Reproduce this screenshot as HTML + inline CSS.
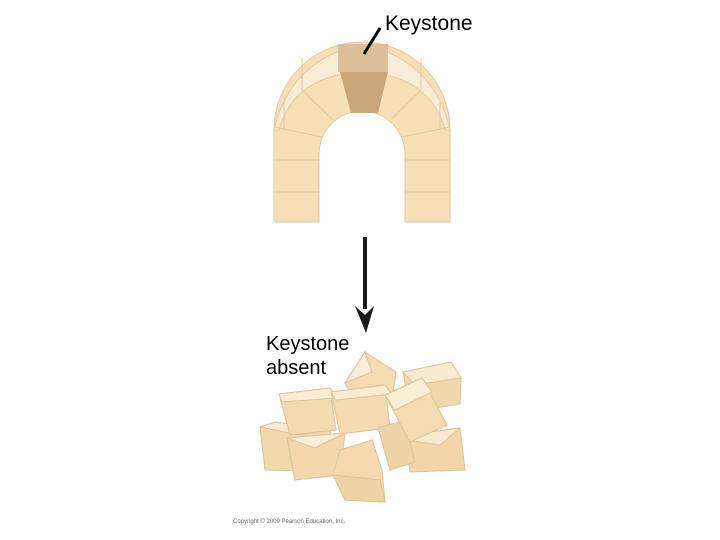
<!DOCTYPE html>
<html><head><style>
html,body{margin:0;padding:0;background:#fff;width:720px;height:540px;overflow:hidden}
svg{display:block}
</style></head><body>
<svg width="720" height="540" viewBox="0 0 720 540" xmlns="http://www.w3.org/2000/svg">
<g stroke="#e2c9a0" stroke-width="1" fill="#f8e2bd">
 <!-- arch outer (depth band) -->
 <path d="M274,222 L274,130 A88,88 0 0 1 450,130 L450,222 L405,222 L405,154 A43,43 0 0 0 319,154 L319,222 Z" fill="#f7dfb7"/>
 <path d="M279,130 A83,60 0 0 1 445,130" fill="none"/>
 <path d="M274,130 Q290,60 362,44 Q434,60 450,130 L445,130 Q430,75 362,72 Q294,75 279,130 Z" fill="#faecd4"/>
 <line x1="274" y1="160" x2="319" y2="160"/><line x1="274" y1="192" x2="319" y2="192"/>
 <line x1="405" y1="160" x2="450" y2="160"/><line x1="405" y1="192" x2="450" y2="192"/>
 <line x1="274" y1="127" x2="322" y2="137"/><line x1="450" y1="127" x2="402" y2="137"/>
 <line x1="302" y1="90" x2="333" y2="120"/><line x1="421" y1="90" x2="391" y2="120"/>
 <line x1="302" y1="90" x2="302" y2="58"/><line x1="421" y1="90" x2="421" y2="58"/>
 <line x1="284" y1="102" x2="284" y2="130"/><line x1="440" y1="102" x2="440" y2="130"/>
</g>
<path d="M338,44 L388,44 L388,72 L338,72 Z" fill="#dcc09a"/>
<path d="M340,72 L388,72 L378,113 L351,113 Z" fill="#c9a57a"/>
<line x1="380" y1="28" x2="364" y2="54" stroke="#000" stroke-width="3"/>
<text x="385" y="30" font-family="Liberation Sans, sans-serif" font-size="21" fill="#000">Keystone</text>
<!-- arrow -->
<rect x="363" y="237" width="4" height="72" fill="#1a1a1a"/>
<path d="M355,306 L365,315 L374,306 L366,333 Z" fill="#1a1a1a"/>
<text font-family="Liberation Sans, sans-serif" font-size="20" fill="#000"><tspan x="266" y="350">Keystone</tspan><tspan x="266" y="374">absent</tspan></text>
<!-- rubble -->
<g stroke="#dcc29a" stroke-width="1">
 <path d="M345,383 L365,352 L396,372 L392,398 L350,392 Z" fill="#f4dcb0"/>
 <path d="M345,383 L365,352 L372,372 Z" fill="#fbeed6"/>
 <path d="M403,372 L451,362 L461,378 L460,404 L410,412 Z" fill="#f1d8ac"/>
 <path d="M403,372 L451,362 L461,378 L415,385 Z" fill="#faebd0"/>
 <path d="M260,427 L275,422 L330,430 L335,472 L265,470 Z" fill="#f2d9ad"/>
 <path d="M260,427 L275,422 L330,430 L300,435 Z" fill="#faebd0"/>
 <path d="M430,432 L460,428 L465,470 L410,472 L405,440 Z" fill="#f0d6a9"/>
 <path d="M430,432 L460,428 L440,445 L405,440 Z" fill="#faebd0"/>
 <path d="M279,394 L330,388 L336,430 L290,435 Z" fill="#f3dab0"/>
 <path d="M279,394 L330,388 L337,398 L282,402 Z" fill="#faecd3"/>
 <path d="M331,392 L385,385 L390,428 L340,434 Z" fill="#f3dab0"/>
 <path d="M331,392 L385,385 L392,394 L336,400 Z" fill="#faecd3"/>
 <path d="M287,438 L345,433 L340,475 L295,480 Z" fill="#f2d8ab"/>
 <path d="M287,438 L345,433 L315,448 Z" fill="#fbeed6"/>
 <path d="M378,428 L405,420 L415,462 L390,470 Z" fill="#edd3a5"/>
 <path d="M385,395 L422,378 L447,425 L410,442 Z" fill="#f4dcb2"/>
 <path d="M385,395 L422,378 L432,392 L395,410 Z" fill="#fbeed6"/>
 <path d="M340,450 L372,440 L382,470 L385,502 L345,500 L333,475 Z" fill="#f3d9ad"/>
 <path d="M333,475 L380,480 L385,502 L345,500 Z" fill="#eed3a5"/>
</g>
<text x="233" y="523" font-family="Liberation Sans, sans-serif" font-size="6" fill="#666">Copyright © 2009 Pearson Education, Inc.</text>
</svg>
</body></html>
